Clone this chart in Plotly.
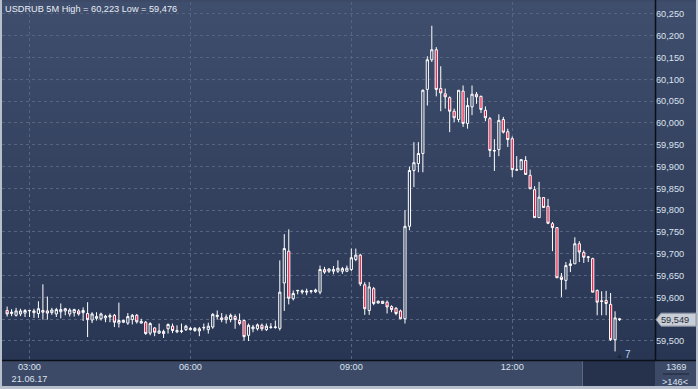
import plotly.graph_objects as go
import pandas as pd

# ---------------- data (USDRUB, 5-minute candles, 21.06.17) ----------------
times = pd.date_range("2017-06-21 02:35", periods=138, freq="5min")

opens = [59.570, 59.563, 59.559, 59.562, 59.564, 59.569, 59.565, 59.563, 59.566, 59.569,
         59.565, 59.562, 59.567, 59.569, 59.562, 59.565, 59.569, 59.565, 59.563, 59.548,
         59.552, 59.551, 59.553, 59.555, 59.559, 59.541, 59.543, 59.541, 59.549, 59.559,
         59.541, 59.543, 59.518, 59.530, 59.518, 59.517, 59.528, 59.534, 59.521, 59.522,
         59.526, 59.526, 59.524, 59.523, 59.530, 59.526, 59.532, 59.556, 59.553, 59.549,
         59.549, 59.556, 59.547, 59.547, 59.513, 59.528, 59.528, 59.536, 59.526, 59.531,
         59.531, 59.529, 59.633, 59.706, 59.597, 59.615, 59.612, 59.612, 59.614, 59.613,
         59.612, 59.664, 59.660, 59.660, 59.660, 59.660, 59.660, 59.664, 59.687, 59.697,
         59.629, 59.570, 59.620, 59.587, 59.586, 59.589, 59.579, 59.575, 59.569, 59.551,
         59.763, 59.891, 59.907, 59.930, 60.077, 60.145, 60.168, 60.079, 60.067, 60.058,
         60.027, 60.008, 60.073, 59.999, 60.037, 60.066, 60.061, 60.029, 60.010, 59.937,
         59.939, 60.008, 59.980, 59.964, 59.893, 59.893, 59.914, 59.880, 59.847, 59.783,
         59.829, 59.809, 59.769, 59.760, 59.647, 59.639, 59.673, 59.677, 59.723, 59.703,
         59.693, 59.689, 59.616, 59.592, 59.593, 59.584, 59.503, 59.551]

highs = [59.579, 59.573, 59.576, 59.574, 59.573, 59.571, 59.574, 59.591, 59.630, 59.602,
         59.576, 59.576, 59.586, 59.576, 59.575, 59.574, 59.573, 59.577, 59.589, 59.566,
         59.566, 59.565, 59.560, 59.563, 59.562, 59.588, 59.549, 59.564, 59.562, 59.562,
         59.551, 59.546, 59.543, 59.532, 59.540, 59.526, 59.540, 59.540, 59.536, 59.540,
         59.537, 59.532, 59.532, 59.532, 59.540, 59.542, 59.564, 59.570, 59.564, 59.561,
         59.563, 59.561, 59.563, 59.549, 59.540, 59.537, 59.540, 59.540, 59.540, 59.541,
         59.547, 59.685, 59.745, 59.756, 59.616, 59.616, 59.618, 59.620, 59.616, 59.620,
         59.673, 59.670, 59.667, 59.672, 59.685, 59.670, 59.673, 59.712, 59.712, 59.700,
         59.635, 59.635, 59.624, 59.593, 59.592, 59.593, 59.582, 59.578, 59.572, 59.800,
         59.900, 59.956, 59.956, 60.077, 60.153, 60.223, 60.174, 60.130, 60.079, 60.061,
         60.033, 60.075, 60.086, 60.058, 60.086, 60.071, 60.063, 60.038, 60.014, 59.963,
         60.020, 60.014, 59.987, 59.969, 59.924, 59.916, 59.924, 59.893, 59.855, 59.865,
         59.830, 59.826, 59.773, 59.761, 59.656, 59.681, 59.687, 59.738, 59.729, 59.708,
         59.695, 59.691, 59.618, 59.614, 59.615, 59.610, 59.568, 59.553]

lows = [59.556, 59.557, 59.556, 59.557, 59.555, 59.555, 59.553, 59.553, 59.549, 59.549,
        59.560, 59.555, 59.552, 59.559, 59.556, 59.556, 59.558, 59.546, 59.509, 59.541,
        59.547, 59.547, 59.543, 59.543, 59.532, 59.531, 59.541, 59.537, 59.538, 59.540,
        59.540, 59.514, 59.513, 59.511, 59.516, 59.507, 59.517, 59.518, 59.518, 59.518,
        59.523, 59.524, 59.521, 59.511, 59.524, 59.517, 59.528, 59.549, 59.543, 59.540,
        59.543, 59.528, 59.536, 59.501, 59.500, 59.520, 59.524, 59.523, 59.523, 59.528,
        59.528, 59.524, 59.569, 59.584, 59.593, 59.607, 59.607, 59.605, 59.609, 59.610,
        59.607, 59.654, 59.656, 59.653, 59.656, 59.654, 59.658, 59.660, 59.683, 59.626,
        59.560, 59.560, 59.582, 59.586, 59.585, 59.563, 59.566, 59.559, 59.550, 59.540,
        59.754, 59.853, 59.887, 59.887, 60.040, 60.140, 60.061, 60.027, 60.033, 59.979,
        60.002, 60.002, 59.991, 59.987, 60.018, 60.044, 60.023, 60.004, 59.922, 59.890,
        59.924, 59.976, 59.945, 59.876, 59.891, 59.893, 59.882, 59.849, 59.783, 59.783,
        59.805, 59.768, 59.706, 59.645, 59.601, 59.618, 59.658, 59.677, 59.681, 59.679,
        59.681, 59.612, 59.559, 59.559, 59.559, 59.500, 59.476, 59.546]

closes = [59.562, 59.566, 59.569, 59.569, 59.570, 59.570, 59.569, 59.574, 59.570, 59.564,
          59.571, 59.572, 59.572, 59.574, 59.571, 59.572, 59.562, 59.570, 59.549, 59.562,
          59.556, 59.562, 59.557, 59.558, 59.543, 59.547, 59.547, 59.556, 59.559, 59.544,
          59.545, 59.517, 59.540, 59.520, 59.523, 59.522, 59.538, 59.524, 59.524, 59.523,
          59.534, 59.529, 59.529, 59.528, 59.531, 59.534, 59.561, 59.559, 59.549, 59.555,
          59.559, 59.549, 59.540, 59.510, 59.536, 59.532, 59.537, 59.528, 59.534, 59.532,
          59.532, 59.612, 59.712, 59.598, 59.609, 59.616, 59.615, 59.614, 59.615, 59.617,
          59.664, 59.658, 59.665, 59.664, 59.667, 59.666, 59.667, 59.691, 59.697, 59.631,
          59.574, 59.624, 59.586, 59.591, 59.591, 59.578, 59.572, 59.563, 59.551, 59.763,
          59.891, 59.909, 59.930, 60.075, 60.145, 60.168, 60.077, 60.069, 60.060, 60.027,
          60.012, 60.075, 59.999, 60.040, 60.066, 60.060, 60.031, 60.012, 59.937, 59.936,
          60.006, 59.979, 59.962, 59.893, 59.892, 59.916, 59.882, 59.849, 59.783, 59.830,
          59.806, 59.770, 59.760, 59.645, 59.641, 59.673, 59.677, 59.723, 59.704, 59.692,
          59.692, 59.612, 59.589, 59.591, 59.586, 59.503, 59.553, 59.549]

y_ticks = [59.50, 59.55, 59.60, 59.65, 59.70, 59.75, 59.80, 59.85, 59.90, 59.95,
           60.00, 60.05, 60.10, 60.15, 60.20, 60.25]
y_ticktext = ["59,500", "", "59,600", "59,650", "59,700", "59,750", "59,800", "59,850",
              "59,900", "59,950", "60,000", "60,050", "60,100", "60,150", "60,200", "60,250"]
x_ticks = ["2017-06-21 03:00", "2017-06-21 06:00", "2017-06-21 09:00", "2017-06-21 12:00"]
x_ticktext = ["03:00<br>21.06.17", "06:00", "09:00", "12:00"]

title_text = "USDRUB 5M High = 60,223 Low = 59,476"
last_price = 59.549
last_label = "59,549"

# ---------------- styling ----------------
FONT = "Liberation Sans, Arial, sans-serif"
FS = 9.2
TXT = "#dbe2ee"
W, H = 698, 389
L, R, T, B = 2, 43, 2, 29
pw, ph = W - L - R, H - T - B

def px_x(px):  # pixel -> paper x
    return (px - L) / pw

def px_y(py):  # pixel -> paper y
    return (H - B - py) / ph

fig = go.Figure()
fig.add_trace(go.Candlestick(
    x=times, open=opens, high=highs, low=lows, close=closes,
    increasing=dict(line=dict(color="#ffffff", width=1), fillcolor="#2f3c5a"),
    decreasing=dict(line=dict(color="#ffffff", width=1), fillcolor="#e8103c"),
    whiskerwidth=0, hoverinfo="skip", showlegend=False,
))

shapes = []
# vertical gradient background (plot + right axis panel)
top = (63, 78, 109)
bot = (41, 54, 83)
n = 48
for i in range(n):
    t = i / (n - 1)
    c = tuple(round(top[k] + (bot[k] - top[k]) * t) for k in range(3))
    y1 = px_y(T + ph * i / n) + 0.001
    y0 = px_y(T + ph * (i + 1) / n) - 0.001
    shapes.append(dict(type="rect", xref="paper", yref="paper", x0=px_x(0), x1=px_x(W),
                       y0=y0, y1=y1, fillcolor="rgb(%d,%d,%d)" % c, line_width=0, layer="below"))
# dark box in time axis area
shapes.append(dict(type="rect", xref="paper", yref="paper", x0=px_x(583), x1=px_x(655),
                   y0=px_y(386), y1=px_y(361), fillcolor="#26324c", line_width=0, layer="below"))
shapes.append(dict(type="line", xref="paper", yref="paper", x0=px_x(582.5), x1=px_x(582.5),
                   y0=px_y(386), y1=px_y(361), line=dict(color="#5d6984", width=1), layer="below"))
# frame lines
shapes.append(dict(type="line", xref="paper", yref="paper", x0=px_x(655.5), x1=px_x(655.5),
                   y0=px_y(360.5), y1=px_y(0), line=dict(color="#0b0f18", width=1.5)))
shapes.append(dict(type="line", xref="paper", yref="paper", x0=px_x(0), x1=px_x(W),
                   y0=px_y(360.5), y1=px_y(360.5), line=dict(color="#0b0f18", width=1.5)))
# outer light border
shapes.append(dict(type="rect", xref="paper", yref="paper", x0=px_x(0), x1=px_x(2),
                   y0=px_y(H), y1=px_y(0), fillcolor="#b7bfcc", line_width=0))
shapes.append(dict(type="rect", xref="paper", yref="paper", x0=px_x(0), x1=px_x(W),
                   y0=px_y(H), y1=px_y(386), fillcolor="#b7bfcc", line_width=0))
shapes.append(dict(type="rect", xref="paper", yref="paper", x0=px_x(696), x1=px_x(W),
                   y0=px_y(H), y1=px_y(0), fillcolor="#b7bfcc", line_width=0))
# separator line in bottom-right box
shapes.append(dict(type="line", xref="paper", yref="paper", x0=px_x(663), x1=px_x(689),
                   y0=px_y(374), y1=px_y(374), line=dict(color="#1c2538", width=1)))
# last price tag
shapes.append(dict(type="path", xref="paper", yref="y", xsizemode="pixel", ysizemode="pixel",
                   xanchor=px_x(656), yanchor=last_price,
                   path="M0,0 L5,6.5 L40,6.5 L40,-6.5 L5,-6.5 Z",
                   fillcolor="#c9cdd5", line=dict(color="#8a93a3", width=1)))

annotations = [
    dict(text=title_text, xref="paper", yref="paper", x=px_x(3), y=px_y(1.5), xanchor="left",
         yanchor="top", showarrow=False, font=dict(family=FONT, size=FS, color="#e8edf5")),
    dict(text=last_label, xref="paper", yref="y", x=px_x(659), y=last_price, xanchor="left",
         yanchor="middle", showarrow=False, font=dict(family=FONT, size=FS, color="#252c3a")),
    dict(text="1369", xref="paper", yref="paper", x=px_x(676), y=px_y(367), xanchor="center",
         yanchor="middle", showarrow=False, font=dict(family=FONT, size=FS, color=TXT)),
    dict(text="&gt;146&lt;", xref="paper", yref="paper", x=px_x(675), y=px_y(381.5), xanchor="center",
         yanchor="middle", showarrow=False, font=dict(family=FONT, size=FS, color=TXT)),
    dict(text="▲", xref="paper", yref="paper", x=px_x(619), y=px_y(355), xanchor="center",
         yanchor="middle", showarrow=False, font=dict(family=FONT, size=7, color="#1c2538")),
    dict(text="7", xref="paper", yref="paper", x=px_x(627.5), y=px_y(354), xanchor="center",
         yanchor="middle", showarrow=False, font=dict(family=FONT, size=10, color="#b9d2f2")),
]

fig.update_layout(
    width=W, height=H,
    margin=dict(l=L, r=R, t=T, b=B, pad=0),
    paper_bgcolor="#3c4a67", plot_bgcolor="rgba(0,0,0,0)",
    font=dict(family=FONT, size=FS, color=TXT),
    shapes=shapes, annotations=annotations,
    showlegend=False, hovermode=False,
    xaxis=dict(
        type="date", range=["2017-06-21 02:29:15", "2017-06-21 14:39:40"],
        rangeslider=dict(visible=False),
        tickmode="array", tickvals=x_ticks, ticktext=x_ticktext,
        showgrid=True, gridcolor="#56647f", griddash="3px,3px", gridwidth=1,
        ticks="", showline=False, zeroline=False,
        tickfont=dict(family=FONT, size=FS, color=TXT),
    ),
    yaxis=dict(
        side="right", range=[59.4564, 60.2775],
        tickmode="array", tickvals=y_ticks, ticktext=y_ticktext,
        showgrid=True, gridcolor="#56647f", griddash="3px,3px", gridwidth=1,
        ticks="", showline=False, zeroline=False,
        tickfont=dict(family=FONT, size=FS, color=TXT),
    ),
)

fig.write_html(
    "out.html",
    config={"displayModeBar": False, "staticPlot": True},
    post_script="document.body.style.margin='0';document.body.style.padding='0';",
)
